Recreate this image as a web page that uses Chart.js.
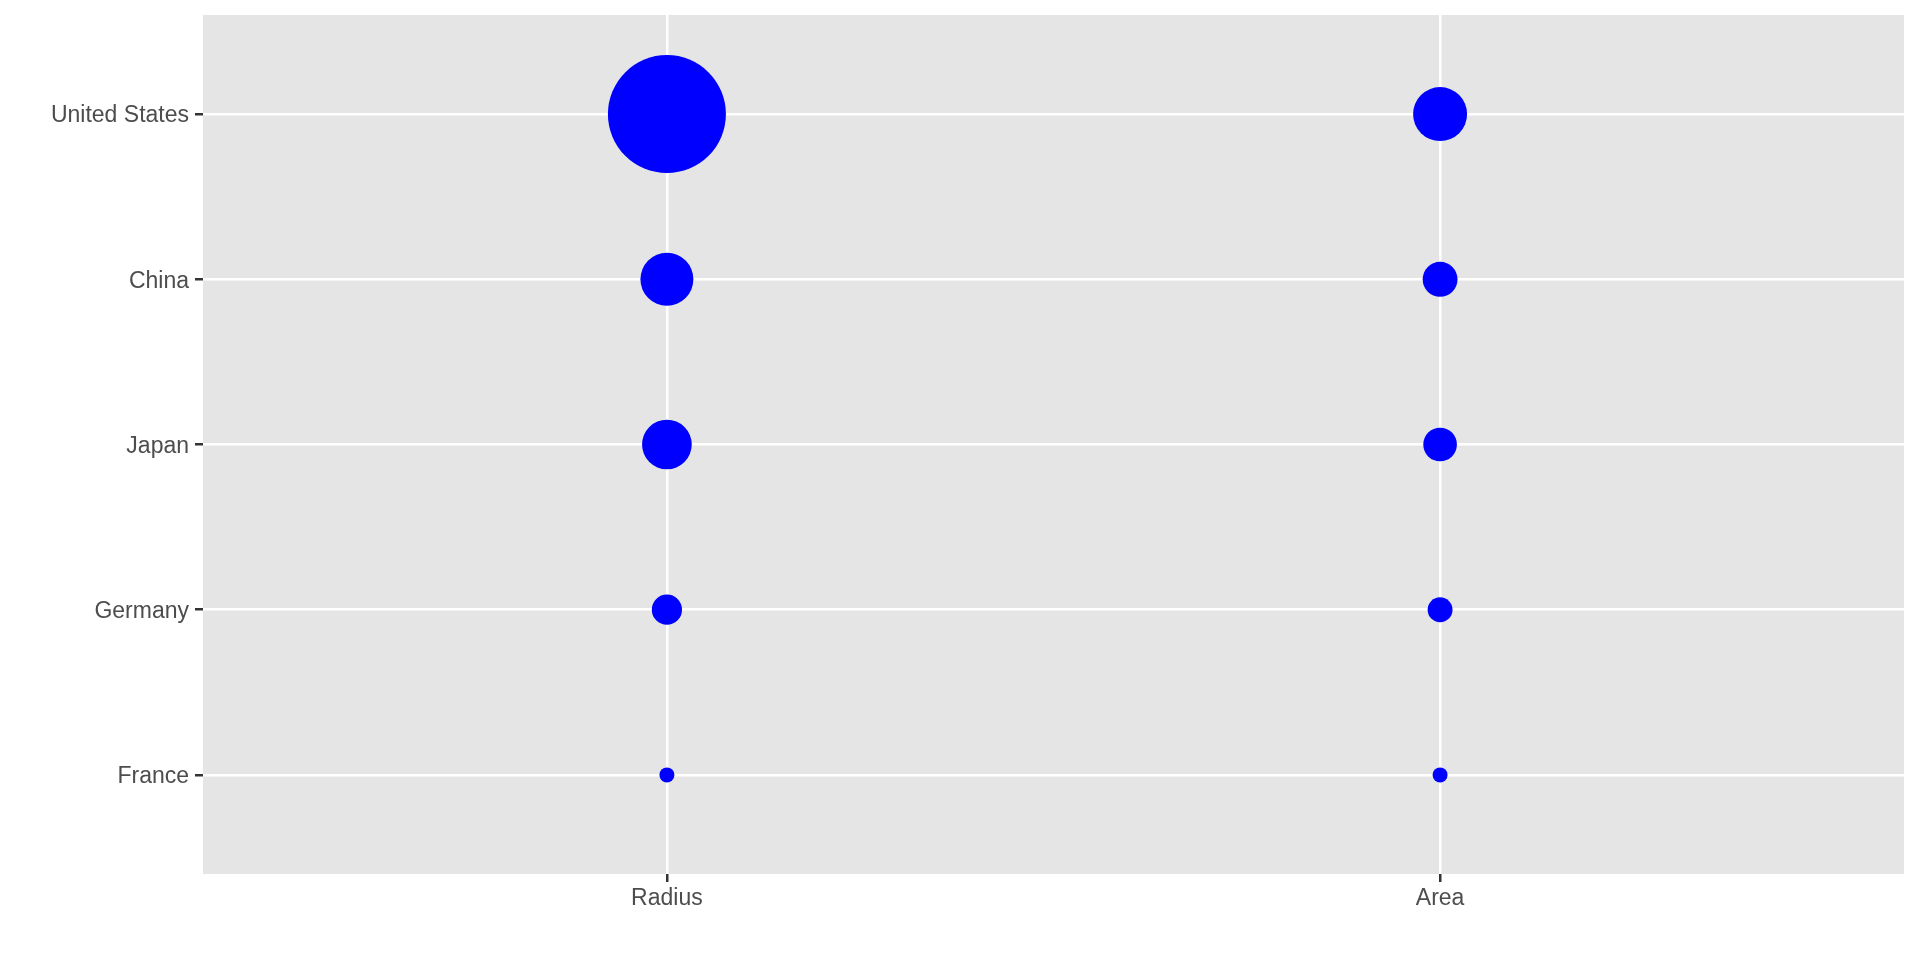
<!DOCTYPE html>
<html>
<head>
<meta charset="utf-8">
<script src="https://cdn.jsdelivr.net/npm/chart.js@4/dist/chart.umd.min.js"></script>
<style>
  html, body { margin: 0; padding: 0; background: #fff; }
  #wrap { width: 1920px; height: 960px; }
</style>
</head>
<body>
<div id="wrap"><canvas id="grafico"></canvas></div>
<script>
const paises = ['United States', 'China', 'Japan', 'Germany', 'France'];
const escalas = ['Radius', 'Area'];
const valores = [100, 40, 37, 19, 5];

// tamanho dos pontos (px)
const rMin = 7.5;
const rMaxRadius = 59;
const rMaxArea = 27;

const vMin = Math.min(...valores);
const vMax = Math.max(...valores);

function raioLinear(v) {
  return rMin + (rMaxRadius - rMin) * (v - vMin) / (vMax - vMin);
}
function raioArea(v) {
  const f = (v - vMin) / (vMax - vMin);
  return Math.sqrt(rMin * rMin + (rMaxArea * rMaxArea - rMin * rMin) * f);
}

const pontos = [];
paises.forEach((p, i) => {
  pontos.push({ x: 1, y: paises.length - i, r: raioLinear(valores[i]) });
  pontos.push({ x: 2, y: paises.length - i, r: raioArea(valores[i]) });
});

const fundoPainel = {
  id: 'fundoPainel',
  beforeDraw(chart) {
    const { ctx, chartArea: a } = chart;
    ctx.save();
    ctx.fillStyle = '#E5E5E5';
    ctx.fillRect(a.left, a.top, a.right - a.left, a.bottom - a.top);
    ctx.restore();
  }
};

const fonte = { family: '"Liberation Sans", Arial, sans-serif', size: 23 };

new Chart(document.getElementById('grafico'), {
  type: 'bubble',
  data: {
    datasets: [{
      data: pontos,
      backgroundColor: '#0000FF',
      borderWidth: 0,
      hoverBorderWidth: 0
    }]
  },
  options: {
    responsive: true,
    maintainAspectRatio: false,
    animation: false,
    layout: { autoPadding: false, padding: { top: 15, right: 16, left: 0, bottom: 0 } },
    plugins: { legend: { display: false }, tooltip: { enabled: false } },
    scales: {
      x: {
        type: 'linear',
        min: 0.4,
        max: 2.6,
        afterBuildTicks: s => { s.ticks = escalas.map((_, i) => ({ value: i + 1 })); },
        afterFit: s => { s.height = 86; s.paddingLeft = 0; s.paddingRight = 0; },
        ticks: {
          callback: v => escalas[v - 1],
          color: '#4D4D4D',
          font: fonte,
          padding: 3,
          maxRotation: 0
        },
        grid: { color: '#FFFFFF', lineWidth: 2.5, tickColor: '#333333', tickWidth: 2.5, tickLength: 8 },
        border: { display: false }
      },
      y: {
        type: 'linear',
        min: 0.4,
        max: paises.length + 0.6,
        afterBuildTicks: s => { s.ticks = paises.map((_, i) => ({ value: i + 1 })); },
        afterFit: s => { s.width = 203; s.paddingTop = 0; s.paddingBottom = 0; },
        ticks: {
          callback: v => paises[paises.length - v],
          color: '#4D4D4D',
          font: fonte,
          padding: 6,
          labelOffset: 2
        },
        grid: { color: '#FFFFFF', lineWidth: 2.5, tickColor: '#333333', tickWidth: 2.5, tickLength: 8 },
        border: { display: false }
      }
    }
  },
  plugins: [fundoPainel]
});
</script>
</body>
</html>
